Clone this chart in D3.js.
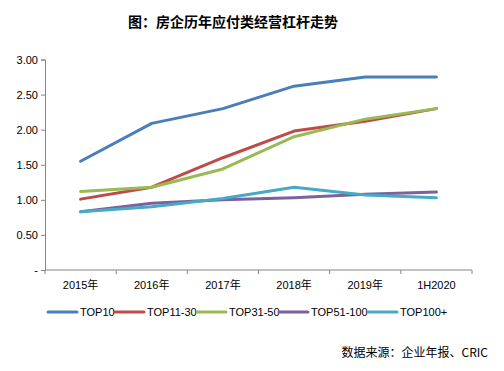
<!DOCTYPE html>
<html>
<head>
<meta charset="utf-8">
<script src="https://cdn.jsdelivr.net/npm/d3@7"></script>
<style>
  body { margin: 0; background: #fff; }
  text { font-family: "Liberation Sans", "Noto Sans CJK SC", sans-serif; }
</style>
</head>
<body>
<div id="chart"></div>
<script>
const categories = ['2015年', '2016年', '2017年', '2018年', '2019年', '1H2020'];
const seriesNames = ['TOP10', 'TOP11-30', 'TOP31-50', 'TOP51-100', 'TOP100+'];
const top10 = [1.55, 2.09, 2.30, 2.62, 2.75, 2.75];
const top11to30 = [1.01, 1.18, 1.60, 1.98, 2.12, 2.30];
const top31to50 = [1.12, 1.18, 1.44, 1.90, 2.15, 2.30];
const top51to100 = [0.83, 0.95, 1.00, 1.03, 1.08, 1.11];
const top100plus = [0.83, 0.90, 1.02, 1.18, 1.07, 1.03];
const yTicks = [0, 0.5, 1, 1.5, 2, 2.5, 3];

const colors = ['#4a7ebb', '#be4b48', '#98b954', '#7d60a0', '#46aac5'];
const seriesValues = [top10, top11to30, top31to50, top51to100, top100plus];

const width = 504;
const height = 371;
const margin = {top: 59.5, right: 32, bottom: 101, left: 45};

const svg = d3.select('#chart')
  .append('svg')
  .attr('width', width)
  .attr('height', height);

svg.append('text')
  .text('图：房企历年应付类经营杠杆走势')
  .attr('x', 233)
  .attr('y', 27)
  .attr('text-anchor', 'middle')
  .attr('font-size', '14px')
  .attr('font-weight', 'bold')
  .style('font-family', '"Noto Sans CJK SC", sans-serif');

const x = d3.scaleBand()
  .domain(categories)
  .range([margin.left, width - margin.right])
  .paddingInner(0)
  .paddingOuter(0);

const y = d3.scaleLinear()
  .domain([0, 3])
  .range([height - margin.bottom, margin.top]);

// y axis
const yAxis = svg.append('g')
  .attr('transform', `translate(${margin.left}, 0)`)
  .call(d3.axisLeft(y).tickValues(yTicks).tickSize(4).tickPadding(3)
    .tickFormat(d => d === 0 ? '-' : d3.format('.2f')(d)));
yAxis.selectAll('path, line').attr('stroke', '#868686');
yAxis.selectAll('text').attr('font-size', '11px').attr('fill', '#000')
  .style('font-family', '"Liberation Sans", sans-serif');

// x axis with ticks at category boundaries
const xAxis = svg.append('g')
  .attr('transform', `translate(0, ${y(0)})`);
xAxis.append('line')
  .attr('x1', x.range()[0]).attr('x2', x.range()[1])
  .attr('stroke', '#868686');
const bounds = categories.map(c => x(c)).concat([x.range()[1]]);
xAxis.selectAll('.xt')
  .data(bounds)
  .enter()
  .append('line')
  .attr('x1', d => d).attr('x2', d => d)
  .attr('y1', 0).attr('y2', 4)
  .attr('stroke', '#868686');
xAxis.selectAll('.xl')
  .data(categories)
  .enter()
  .append('text')
  .text(d => d)
  .attr('x', d => x(d) + x.bandwidth() / 2)
  .attr('y', 19)
  .attr('text-anchor', 'middle')
  .attr('font-size', '11px');

// lines
const line = d3.line()
  .x((d, i) => x(categories[i]) + x.bandwidth() / 2)
  .y(d => y(d));

svg.selectAll('.series')
  .data(seriesValues)
  .enter()
  .append('path')
  .attr('d', d => line(d))
  .attr('fill', 'none')
  .attr('stroke', (d, i) => colors[i])
  .attr('stroke-width', 3)
  .attr('stroke-linejoin', 'round')
  .attr('stroke-linecap', 'round');

// legend
const legendX = [48, 115, 197, 279, 368];
const legend = svg.selectAll('.legend')
  .data(seriesNames)
  .enter()
  .append('g')
  .attr('transform', (d, i) => `translate(${legendX[i]}, 312)`);
legend.append('line')
  .attr('x1', 0).attr('x2', 29)
  .attr('stroke', (d, i) => colors[i])
  .attr('stroke-width', 3)
  .attr('stroke-linecap', 'round');
legend.append('text')
  .text(d => d)
  .attr('x', 32)
  .attr('y', 4)
  .attr('font-size', '11px');

svg.append('text')
  .text('数据来源：企业年报、CRIC')
  .attr('x', 488)
  .attr('y', 357)
  .attr('text-anchor', 'end')
  .attr('font-size', '12px')
  .style('font-family', '"Noto Sans CJK SC", sans-serif');
</script>
</body>
</html>
